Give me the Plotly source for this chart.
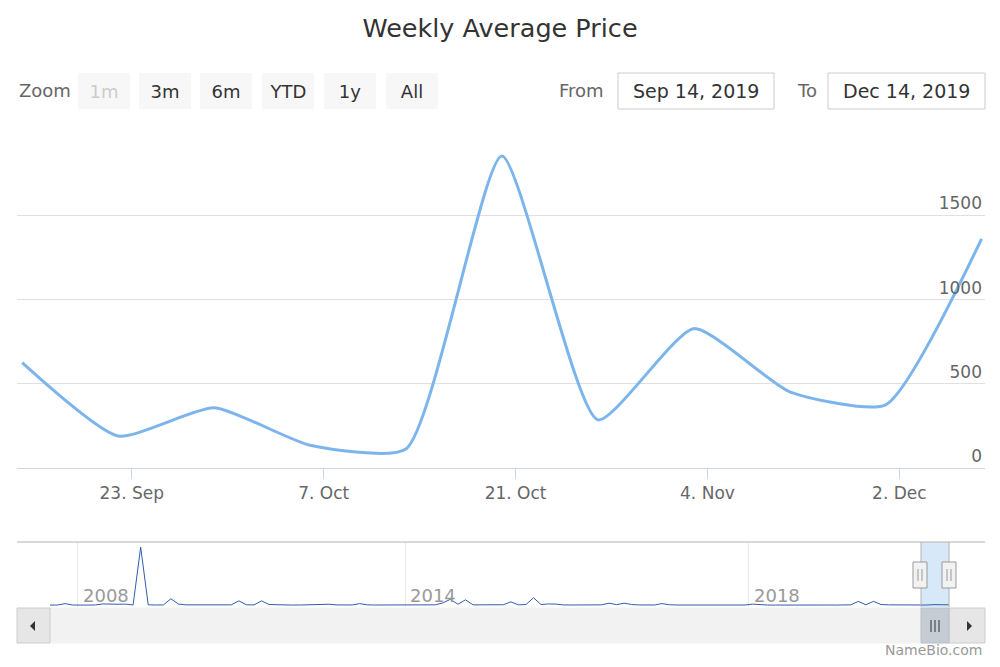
import plotly.graph_objects as go

# ---------------------------
# data
# ---------------------------
week_dates = ["2019-09-15", "2019-09-22", "2019-09-29", "2019-10-06", "2019-10-13",
              "2019-10-20", "2019-10-27", "2019-11-03", "2019-11-17", "2019-12-01",
              "2019-12-08"]
week_price = [625, 190, 357, 135, 113, 1851, 286, 827, 452, 375, 1360]

x_tick_dates = ["2019-09-23", "2019-10-07", "2019-10-21", "2019-11-04", "2019-12-02"]
x_tick_text = ["23. Sep", "7. Oct", "21. Oct", "4. Nov", "2. Dec"]
y_tick_vals = [0, 500, 1000, 1500, 2000]
y_tick_text = ["0", "500", "1000", "1500", ""]

# navigator: full history, ordinal (one value per sample)
nav_values = [
    400, 450, 1800, 420, 380, 400, 450, 1500, 1100, 1200,
    1300, 500, 57000, 600, 450, 500, 6500, 1400, 600, 500,
    450, 420, 480, 500, 600, 4500, 700, 500, 4500, 900,
    500, 450, 400, 420, 500, 450, 480, 1200, 500, 450,
    500, 1800, 600, 450, 500, 480, 420, 450, 500, 1000,
    500, 600, 2500, 6000, 1200, 5500, 600, 450, 400, 500,
    700, 3500, 600, 900, 7500, 900, 1500, 1300, 500, 450,
    420, 500, 450, 600, 2200, 800, 2200, 900, 500, 450,
    420, 1800, 700, 450, 420, 400, 450, 420, 800, 450,
    420, 400, 450, 1300, 500, 420, 400, 450, 420, 400,
    450, 1000, 480, 420, 400, 450, 600, 4000, 700, 4000,
    900, 600, 450, 420, 400, 450, 420, 800, 450, 600,
]
nav_years = ["2008", "2014", "2018"]
nav_year_pos = [3.7, 47.0, 92.5]

zoom_buttons = ["1m", "3m", "6m", "YTD", "1y", "All"]
from_text = "Sep 14, 2019"
to_text = "Dec 14, 2019"

# ---------------------------
# helpers: reference pixel -> paper
# (page body has an 8px margin, so the figure is offset by 8)
# ---------------------------
OFF = 8
W, H = 1000 - 2 * OFF, 667 - 2 * OFF
PL, PR = 17, 985          # plot left / right in page pixels
L, R = PL - OFF, (W + OFF) - PR


def px(x):
    return (x - PL) / (PR - PL)


def py(y):
    return 1 - (y - OFF) / H


FONT = "DejaVu Sans"
GRAY = "#666666"

fig = go.Figure()

fig.add_trace(go.Scatter(
    x=week_dates, y=week_price,
    mode="lines",
    line=dict(color="#7cb5ec", width=3, shape="spline", smoothing=0.55),
    xaxis="x", yaxis="y", hoverinfo="x+y"
))

fig.add_trace(go.Scatter(
    x=list(range(len(nav_values))), y=nav_values,
    mode="lines",
    line=dict(color="#335cad", width=1),
    xaxis="x2", yaxis="y2", hoverinfo="skip"
))

shapes = []
annotations = []

# ---------------------------
# range selector + inputs
# ---------------------------
annotations.append(dict(text="Zoom", x=px(17), y=py(91), xref="paper", yref="paper",
                        xanchor="left", yanchor="middle", showarrow=False,
                        font=dict(size=18, color=GRAY)))
btn_centers = [104, 165, 226, 288, 350, 412]
for lab, cx in zip(zoom_buttons, btn_centers):
    annotations.append(dict(
        text=lab, x=px(cx), y=py(91), xref="paper", yref="paper",
        xanchor="center", yanchor="middle", showarrow=False,
        width=52, height=36, bgcolor="#f7f7f7", borderpad=0, borderwidth=0,
        font=dict(size=18, color="#cccccc" if lab == "1m" else "#333333")))

annotations.append(dict(text="From", x=px(606), y=py(91), xref="paper", yref="paper",
                        xanchor="right", yanchor="middle", showarrow=False,
                        font=dict(size=18, color=GRAY)))
annotations.append(dict(text="To", x=px(819), y=py(91), xref="paper", yref="paper",
                        xanchor="right", yanchor="middle", showarrow=False,
                        font=dict(size=18, color=GRAY)))
for txt, x0, x1 in [(from_text, 618, 774), (to_text, 828, 985)]:
    shapes.append(dict(type="rect", xref="paper", yref="paper",
                       x0=px(x0), x1=px(x1), y0=py(109), y1=py(73),
                       line=dict(color="#cccccc", width=1), fillcolor="white"))
    annotations.append(dict(text=txt, x=px((x0 + x1) / 2), y=py(91), xref="paper", yref="paper",
                            xanchor="center", yanchor="middle", showarrow=False,
                            font=dict(size=19, color="#333333")))

# ---------------------------
# navigator decorations
# ---------------------------
for yr, pos in zip(nav_years, nav_year_pos):
    annotations.append(dict(text=yr, x=pos, y=py(595), xref="x2", yref="paper",
                            xanchor="left", yanchor="middle", xshift=3, showarrow=False,
                            font=dict(size=18, color="#999999")))

# mask over the selected range
shapes.append(dict(type="rect", xref="paper", yref="paper",
                   x0=px(921), x1=px(949), y0=py(607), y1=py(542),
                   line=dict(width=0), fillcolor="rgba(124,181,236,0.3)", layer="below"))
# outline
shapes.append(dict(type="line", xref="paper", yref="paper",
                   x0=px(17), x1=px(985), y0=py(542), y1=py(542),
                   line=dict(color="#b2b2b2", width=1)))
for xe in (921, 949):
    shapes.append(dict(type="line", xref="paper", yref="paper",
                       x0=px(xe), x1=px(xe), y0=py(542), y1=py(607),
                       line=dict(color="#b2b2b2", width=1)))
# handles
for hx in (920, 949):
    shapes.append(dict(type="rect", xref="paper", yref="paper",
                       x0=px(hx - 7), x1=px(hx + 7), y0=py(588), y1=py(562),
                       line=dict(color="#999999", width=1), fillcolor="#f2f2f2"))
    for dx in (-2, 2):
        shapes.append(dict(type="line", xref="paper", yref="paper",
                           x0=px(hx + dx), x1=px(hx + dx), y0=py(569), y1=py(581),
                           line=dict(color="#999999", width=1)))

# scrollbar
shapes.append(dict(type="rect", xref="paper", yref="paper",
                   x0=px(50), x1=px(949), y0=py(643), y1=py(608),
                   line=dict(color="#f2f2f2", width=1), fillcolor="#f2f2f2"))
for bx0, bx1 in [(17, 50), (949, 985)]:
    shapes.append(dict(type="rect", xref="paper", yref="paper",
                       x0=px(bx0), x1=px(bx1), y0=py(643), y1=py(608),
                       line=dict(color="#cccccc", width=1), fillcolor="#e6e6e6"))
shapes.append(dict(type="rect", xref="paper", yref="paper",
                   x0=px(921), x1=px(949), y0=py(643), y1=py(608),
                   line=dict(color="#b8bfc8", width=1), fillcolor="#c5ccd4"))
for rx in (931, 935, 939):
    shapes.append(dict(type="line", xref="paper", yref="paper",
                       x0=px(rx), x1=px(rx), y0=py(620), y1=py(632),
                       line=dict(color="#333333", width=1)))
# arrows
shapes.append(dict(type="path", xref="paper", yref="paper",
                   path=f"M {px(30)} {py(626)} L {px(35)} {py(621)} L {px(35)} {py(631)} Z",
                   fillcolor="#333333", line=dict(width=0)))
shapes.append(dict(type="path", xref="paper", yref="paper",
                   path=f"M {px(972)} {py(626)} L {px(967)} {py(621)} L {px(967)} {py(631)} Z",
                   fillcolor="#333333", line=dict(width=0)))

# credit
annotations.append(dict(text="NameBio.com", x=px(984), y=py(650), xref="paper", yref="paper",
                        xanchor="right", yanchor="middle", showarrow=False,
                        font=dict(size=14, color="#999999")))

# ---------------------------
# layout
# ---------------------------
fig.update_layout(
    width=W, height=H,
    margin=dict(l=L, r=R, t=0, b=0),
    paper_bgcolor="white", plot_bgcolor="white",
    showlegend=False,
    font=dict(family=FONT, color=GRAY),
    title=dict(text="Weekly Average Price", x=(500 - OFF) / W, xref="container", xanchor="center",
               y=1 - (28 - OFF) / H, yref="container", yanchor="middle",
               font=dict(size=25.5, color="#333333", family=FONT)),
    xaxis=dict(
        domain=[0, 1], anchor="y", type="date",
        range=["2019-09-14 15:00", "2019-12-08 06:00"],
        rangebreaks=[dict(bounds=["2019-11-10", "2019-11-17"]),
                     dict(bounds=["2019-11-24", "2019-12-01"])],
        tickvals=x_tick_dates, ticktext=x_tick_text,
        ticks="outside", ticklen=10, tickcolor="#ccd6eb", tickwidth=1,
        showline=True, linecolor="#ccd6eb", linewidth=1,
        showgrid=False, zeroline=False,
        tickfont=dict(size=17, color=GRAY),
    ),
    yaxis=dict(
        domain=[py(468), py(131)], anchor="x", range=[0, 2000],
        side="right", ticklabelposition="inside top",
        tickvals=y_tick_vals, ticktext=y_tick_text,
        showgrid=True, gridcolor="#e0e0e0", gridwidth=1,
        zeroline=False, showline=False, ticks="",
        tickfont=dict(size=17, color=GRAY),
    ),
    xaxis2=dict(
        domain=[0, 1], anchor="y2", range=[-4.37, 123.77],
        tickvals=nav_year_pos, showticklabels=False, ticks="",
        showgrid=True, gridcolor="#ebebeb", zeroline=False, showline=False,
    ),
    yaxis2=dict(
        domain=[py(607), py(542)], anchor="x2", range=[-1500, 62000],
        showticklabels=False, showgrid=False, zeroline=False, showline=False,
    ),
    shapes=shapes,
    annotations=annotations,
)

fig.write_html("out.html")
